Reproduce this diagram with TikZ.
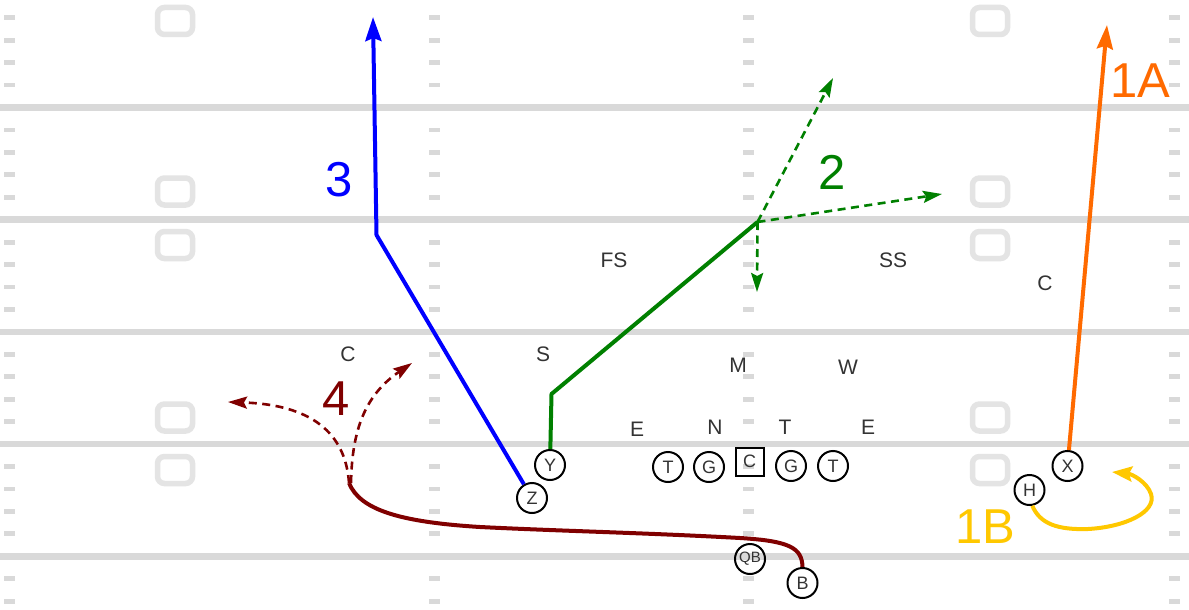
\documentclass[tikz,border=0pt]{standalone}
\usepackage{fontspec}
\setmainfont{Liberation Sans}
\usetikzlibrary{arrows.meta}
\definecolor{fieldgray}{HTML}{D9D9D9}
\definecolor{numgray}{HTML}{E4E4E4}
\definecolor{txt}{HTML}{333333}
\definecolor{routeblue}{HTML}{0000FF}
\definecolor{routegreen}{HTML}{008000}
\definecolor{routeorange}{HTML}{FF6A00}
\definecolor{routeyellow}{HTML}{FFC800}
\definecolor{routered}{HTML}{800000}
\tikzset{
  fieldline/.style={draw=fieldgray,line width=6.5pt},
  hashmark/.style={fill=fieldgray},
  numbox/.style={draw=numgray,line width=5.5pt,rounded corners=7pt},
  player/.style={circle,draw=black,line width=2pt,minimum size=30pt,inner sep=0pt,text=txt,font=\fontsize{18}{18}\selectfont},
  centerbox/.style={rectangle,draw=black,line width=2pt,minimum size=28pt,inner sep=0pt,text=txt,font=\fontsize{18}{18}\selectfont},
  deflabel/.style={text=txt,font=\fontsize{21}{21}\selectfont,inner sep=0pt},
  routenum/.style={font=\fontsize{49}{49}\selectfont,inner sep=0pt},
  route/.style={line width=4pt,line join=round},
  bigtip/.style={-{Stealth[length=24pt,width=16pt,inset=3pt]}},
  smalltip/.style={-{Stealth[length=19pt,width=12pt,inset=3pt]}},
  dashroute/.style={line width=2.6pt,dash pattern=on 8pt off 5.5pt}
}
\begin{document}
\begin{tikzpicture}[x=1pt,y=-1pt]
\useasboundingbox (0,0) rectangle (1189,610);
\clip (0,0) rectangle (1189,610);
\fill[white] (0,0) rectangle (1189,610);
% field lines
\foreach \L in {107.5,219.7,331.9,444.1,556.3}
  \draw[fieldline] (0,\L) -- (1189,\L);
% hash marks
\foreach \L in {-4.7,107.5,219.7,331.9,444.1,556.3}
  \foreach \j in {1,2,3,4}
    \foreach \x in {9.5,434,748.5,1174}
      \fill[hashmark] ({\x-5.5},{\L+22.44*\j-2.4}) rectangle ++(11,4.8);
% yard number boxes
\foreach \x in {175,990}
  \foreach \y in {21,191.5,245,417.5,470}
    \draw[numbox] ({\x-17.5},{\y-13.5}) rectangle ({\x+17.5},{\y+13.5});

% offense
\node[player] (Z) at (532,498) {Z};
\node[player] (Y) at (550,465) {Y};
\node[player] (T1) at (668,467) {T};
\node[player] (G1) at (709,467) {G};
\node[centerbox] (C) at (749.5,461.5) {C};
\node[player] (G2) at (791,466) {G};
\node[player] (T2) at (833,466) {T};
\node[player,font=\fontsize{15}{15}\selectfont] (QB) at (750,559) {QB};
\node[player] (B) at (802.5,583) {B};
\node[player] (X) at (1067.5,466) {X};
\node[player] (H) at (1029.5,490) {H};

% defense
\node[deflabel] (FS) at (614,260) {FS};
\node[deflabel] (SS) at (893,260) {SS};
\node[deflabel] (CR) at (1045,283) {C};
\node[deflabel] (CL) at (348,354) {C};
\node[deflabel] (S) at (543,354) {S};
\node[deflabel] (M) at (738,365) {M};
\node[deflabel] (W) at (848,367) {W};
\node[deflabel] (E1) at (637,429) {E};
\node[deflabel] (N) at (715,427) {N};
\node[deflabel] (T3) at (785,427) {T};
\node[deflabel] (E2) at (868,427) {E};

% route labels
\node[routenum,text=routeblue] (L3) at (339,180) {3};
\node[routenum,text=routegreen] (L2) at (832,172) {2};
\node[routenum,text=routeorange] (L1A) at (1140,81) {1A};
\node[routenum,text=routeyellow] (L1B) at (985,527) {1B};
\node[routenum,text=routered] (L4) at (336,399) {4};

% route coordinates
\coordinate (b1) at (376.5,235);
\coordinate (b2) at (373,17);
\coordinate (g1) at (551.5,394);
\coordinate (J) at (757.5,222);
\coordinate (gUp) at (833,78);
\coordinate (gRight) at (942,194);
\coordinate (gDown) at (757,292);
\coordinate (o1) at (1107,25);
\coordinate (y1) at (1112,472);
\coordinate (R) at (349,483);
\coordinate (rLeft) at (228,402);
\coordinate (rRight) at (412,363);

% route 3 (blue)
\draw[route,routeblue,bigtip] (Z) -- (b1) -- (b2);
% route 2 (green)
\draw[route,routegreen] (Y) -- (g1) -- (J);
\draw[dashroute,routegreen,smalltip] (J) -- (gUp);
\draw[dashroute,routegreen,smalltip] (J) -- (gRight);
\draw[dashroute,routegreen,smalltip] (J) -- (gDown);
% route 1A (orange)
\draw[route,routeorange,bigtip] (X) -- (o1);
% route 1B (yellow)
\draw[route,routeyellow,-{Stealth[length=20pt,width=15pt,inset=3pt]}]
  (H.-80) .. controls (1040,524) and (1058,530) .. (1088,529)
  .. controls (1125,527) and (1157,512) .. (1151,494)
  .. controls (1147,482) and (1132,474) .. (y1);
% route 4 (dark red)
\draw[route,routered]
  (B.north) .. controls (802,548) and (790,541) .. (740,538)
  .. controls (650,533) and (560,531) .. (480,527)
  .. controls (400,522) and (360,510) .. (R);
\draw[dashroute,routered,smalltip] (R) .. controls (346,440) and (320,405) .. (rLeft);
\draw[dashroute,routered,smalltip] ([xshift=2pt]R) .. controls (352,430) and (365,395) .. (rRight);
\end{tikzpicture}
\end{document}
